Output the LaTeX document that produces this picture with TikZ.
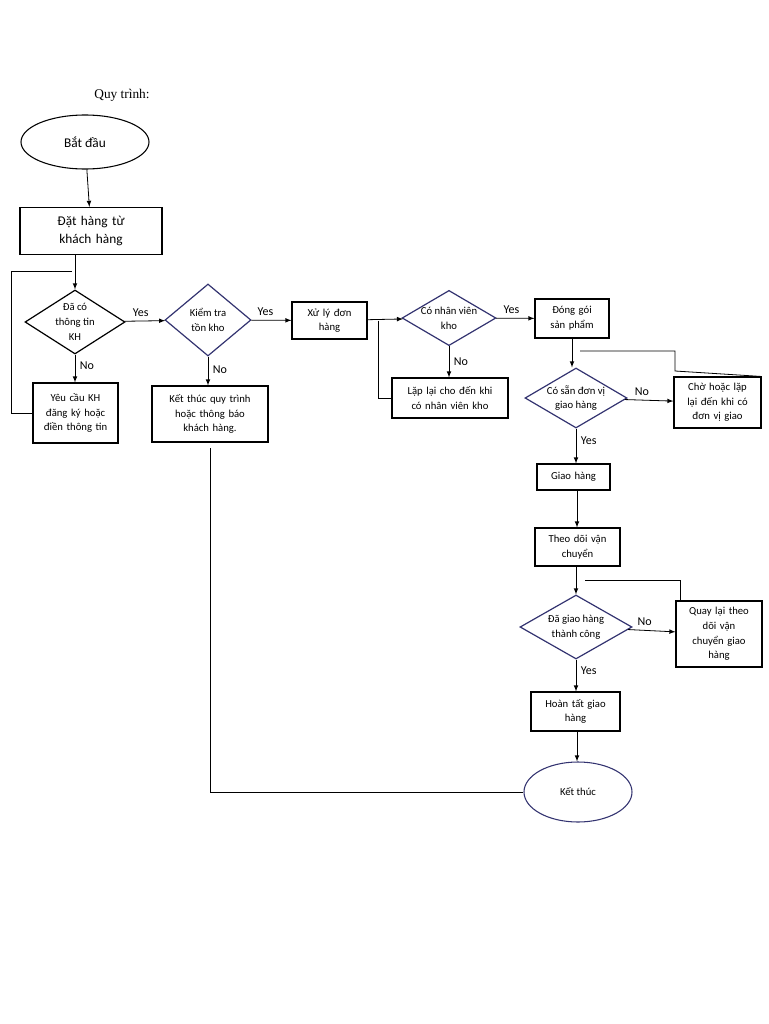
\documentclass[tikz,border=0pt]{standalone}
\usepackage{fontspec}
\setmainfont{Carlito}
\newfontfamily\titlefont{Liberation Serif}
\usetikzlibrary{shapes.geometric}
\tikzset{
  box/.style={draw,line width=0.8pt,align=center,font=\fontsize{8}{11}\selectfont,inner sep=1pt},
  dia/.style={draw=blue!30!black!80,line width=0.9pt,diamond,aspect=1.4,align=center,font=\fontsize{8}{11}\selectfont,inner sep=0pt},
  lbl/.style={font=\fontsize{9}{11}\selectfont},
  arr/.style={-latex,line width=0.6pt},
  ln/.style={line width=0.6pt},
  sz/.style n args={2}{minimum width={0.75*#1},minimum height={0.75*#2}},
  tw/.style={text width={0.75*#1}}
}
\begin{document}
\begin{tikzpicture}[x=0.75pt,y=0.75pt,yscale=-1,xscale=1]
\useasboundingbox (0,0) rectangle (768,1024);

% Text Node
\node[font=\titlefont\fontsize{10}{12}\selectfont] (title) at (122,95) {Quy trình:};

% Start
\node[ellipse,draw,line width=0.8pt,sz={128}{54},font=\fontsize{10}{12}\selectfont] (start) at (85,142) {Bắt đầu};
\node[box,sz={142}{47},tw=130,font=\fontsize{10}{13}\selectfont] (order) at (91,231) {Đặt hàng từ khách hàng};

% Decisions
\node[dia,draw=black,sz={100}{64},aspect=1.55] (info) at (75,322) {Đã có\\thông tin\\KH};
\node[dia,sz={86}{72},aspect=1.2] (stock) at (208,320) {Kiểm tra\\tồn kho};
\node[dia,sz={88}{52},aspect=1.7] (staff) at (449,318) {Có nhân viên\\kho};
\node[dia,sz={102}{60},aspect=1.7] (carrier) at (576,398) {Có sẵn đơn vị\\giao hàng};
\node[dia,sz={112}{64},aspect=1.75] (done) at (576,627) {Đã giao hàng\\thành công};

% Boxes
\node[box,sz={85}{60},tw=80] (ask) at (75.5,413) {Yêu cầu KH\\đăng ký hoặc\\điền thông tin};
\node[box,sz={116}{56},tw=110] (stop) at (210,414) {Kết thúc quy trình\\hoặc thông báo\\khách hàng.};
\node[box,sz={75}{37},tw=70] (proc) at (329.5,320.5) {Xử lý đơn\\hàng};
\node[box,sz={116}{40},tw=110] (wait) at (450,398) {Lặp lại cho đến khi\\có nhân viên kho};
\node[box,sz={74}{39},tw=70] (pack) at (572,318.5) {Đóng gói\\sản phẩm};
\node[box,sz={87}{51},tw=82] (retry) at (717.5,402.5) {Chờ hoặc lặp\\lại đến khi có\\đơn vị giao};
\node[box,sz={73}{26},tw=68] (ship) at (573.5,477) {Giao hàng};
\node[box,sz={85}{38},tw=80] (track) at (577.5,547) {Theo dõi vận\\chuyển};
\node[box,sz={86}{66},tw=80] (back) at (719,634) {Quay lại theo\\dõi vận\\chuyển giao\\hàng};
\node[box,sz={89}{39},tw=84] (finish) at (575.5,711.5) {Hoàn tất giao\\hàng};
\node[ellipse,draw=blue!30!black!80,line width=0.8pt,sz={108}{60},font=\fontsize{8}{11}\selectfont] (end) at (578,792) {Kết thúc};

% Connectors
\draw[arr] (start) -- (order);
\draw[arr] (order.south -| info.north) -- (info.north);
\draw[arr] (info) -- node[lbl,above,pos=0.4] {Yes} (stock);
\draw[arr] (info.south) -- node[lbl,right,pos=0.4] {No} (info.south |- ask.north);
\draw[ln] (ask.west) -- ++(-21,0) |- (72,271);
\draw[arr] (stock) -- node[lbl,above,pos=0.35] {Yes} (proc);
\draw[arr] (stock.south) -- node[lbl,right,pos=0.45] {No} (stock.south |- stop.north);
\draw[arr] (proc) -- (staff);
\coordinate (fork) at (378,320.5);
\draw[ln] (fork) -- (fork |- wait.west) -- (wait.west);
\draw[arr] (staff) -- node[lbl,above,pos=0.4] {Yes} (pack);
\draw[arr] (staff.south) -- node[lbl,right,pos=0.5] {No} (staff.south |- wait.north);
\draw[arr] (pack.south) -- (pack.south |- carrier.north);
\coordinate (w1) at (580,351);
\draw[ln] (w1) -- (675,351) -- (675,371) -- (retry.north east);
\draw[arr] (carrier) -- node[lbl,above,pos=0.35] {No} (retry);
\draw[arr] (carrier.south) -- node[lbl,right,pos=0.35] {Yes} (carrier.south |- ship.north);
\coordinate (t1) at (577,490);
\draw[arr] (t1) -- (t1 |- track.north);
\draw[arr] (track.south -| done.north) -- (done.north);
\coordinate (w2) at (585,580);
\coordinate (w3) at (680,580);
\draw[ln] (w2) -- (w3) -- (w3 |- back.north);
\draw[arr] (done) -- node[lbl,above,pos=0.35] {No} (back);
\draw[arr] (done.south) -- node[lbl,right,pos=0.35] {Yes} (done.south |- finish.north);
\coordinate (t2) at (577,731);
\draw[arr] (t2) -- (t2 |- end.north);
\coordinate (t3) at (210,448);
\draw[ln] (t3) -- (t3 |- end.west) -- (end.west);

\end{tikzpicture}
\end{document}
